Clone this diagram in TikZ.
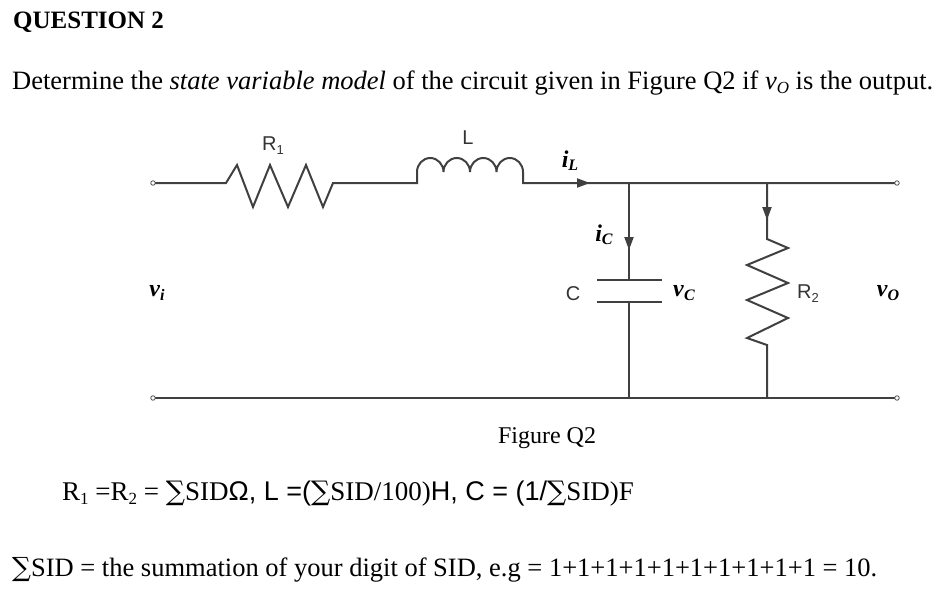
\documentclass[tikz,border=0pt]{standalone}
\usepackage{fontspec}
\setmainfont{Liberation Serif}
\newfontfamily\arial{Liberation Sans}
\newfontfamily\djv{DejaVu Serif}
\usetikzlibrary{arrows.meta}
\newcommand{\vv}[2]{\textbf{\textit{#1}}\raisebox{-0.3ex}{\fontsize{16}{16}\selectfont\textbf{\textit{#2}}}}
\begin{document}
\begin{tikzpicture}[x=1pt,y=-1pt,
  wire/.style={draw=black!75,line width=2pt},
  term/.style={circle,draw=black!70,fill=white,inner sep=1.6pt,line width=0.8pt},
  lbl/.style={font=\arial\fontsize{20}{20}\selectfont,text=black!80,inner sep=0},
  var/.style={font=\fontsize{24}{24}\selectfont,inner sep=0},
  txt/.style={font=\fontsize{26.5}{26.5}\selectfont,anchor=west,inner sep=0},
  arr/.style={-{Triangle[length=13pt,width=9pt]}}]
\useasboundingbox (0,0) rectangle (942,600);
\node[txt,font=\bfseries\fontsize{25}{25}\selectfont] (t) at (13,22) {QUESTION 2};
\node[txt] (q) at (12,83) {Determine the \textit{state variable model} of the circuit given in Figure Q2 if \textit{v\raisebox{-0.3ex}{\fontsize{17}{17}\selectfont O}} is the output.};
\coordinate (a) at (153,183); \coordinate (b) at (153,398);
\coordinate (j1) at (629,183); \coordinate (j2) at (767,183);
\coordinate (k1) at (629,398); \coordinate (k2) at (767,398);
\coordinate (d) at (897,183); \coordinate (e) at (897,398);
\draw[wire] (a) -- (226,183) -- (237,165) -- (253,207) -- (270,165) -- (288,207) -- (306,165) -- (323,207) -- (333,183) -- (417,183) -- (417,172)
  arc[start angle=180,end angle=0,x radius=13.25pt,y radius=14pt]
  arc[start angle=180,end angle=0,x radius=13.25pt,y radius=14pt]
  arc[start angle=180,end angle=0,x radius=13.25pt,y radius=14pt]
  arc[start angle=180,end angle=0,x radius=13.25pt,y radius=14pt]
  -- (523,183) -- (j1) -- (d);
\draw[wire,arr] (545,183) -- (590,183);
\draw[wire] (b) -- (e);
\draw[wire] (j1) -- (629,280); \draw[wire] (629,302) -- (k1);
\draw[wire] (597,280) -- (662,280); \draw[wire] (597,302) -- (662,302);
\draw[wire,arr] (629,215) -- (629,250);
\draw[wire] (j2) -- (767,239) -- (788,248) -- (747,265) -- (788,283) -- (747,300) -- (788,318) -- (747,338) -- (767,345) -- (k2);
\draw[wire,arr] (767,190) -- (767,220);
\node[term] at (a) {}; \node[term] at (b) {}; \node[term] at (d) {}; \node[term] at (e) {};
\node[lbl] (r1) at (273,146) {R\raisebox{-0.4ex}{\fontsize{13}{13}\selectfont 1}};
\node[lbl] (l) at (468,138) {L};
\node[lbl] (c) at (573,294) {C};
\node[lbl] (r2) at (808,294) {R\raisebox{-0.4ex}{\fontsize{13}{13}\selectfont 2}};
\node[var] (iL) at (570,161) {\vv{i}{L}};
\node[var] (iC) at (604,235) {\vv{i}{C}};
\node[var] (vC) at (684,293) {\vv{v}{C}};
\node[var] (vi) at (157,293) {\vv{v}{i}};
\node[var] (vO) at (888,293) {\vv{v}{O}};
\node[font=\fontsize{24}{24}\selectfont,inner sep=0] (fig) at (547,438) {Figure Q2};
\node[txt,font=\fontsize{27}{27}\selectfont] (f) at (62,494) {R\raisebox{-0.3ex}{\fontsize{17}{17}\selectfont 1} =R\raisebox{-0.3ex}{\fontsize{17}{17}\selectfont 2} = {\djv∑}SID{\arial Ω, L =(}{\djv∑}SID/100){\arial H, C = (1/}{\djv∑}SID)F};
\node[txt] (s) at (12,570) {{\djv∑}SID = the summation of your digit of SID, e.g = 1+1+1+1+1+1+1+1+1+1 = 10.};
\end{tikzpicture}
\end{document}
